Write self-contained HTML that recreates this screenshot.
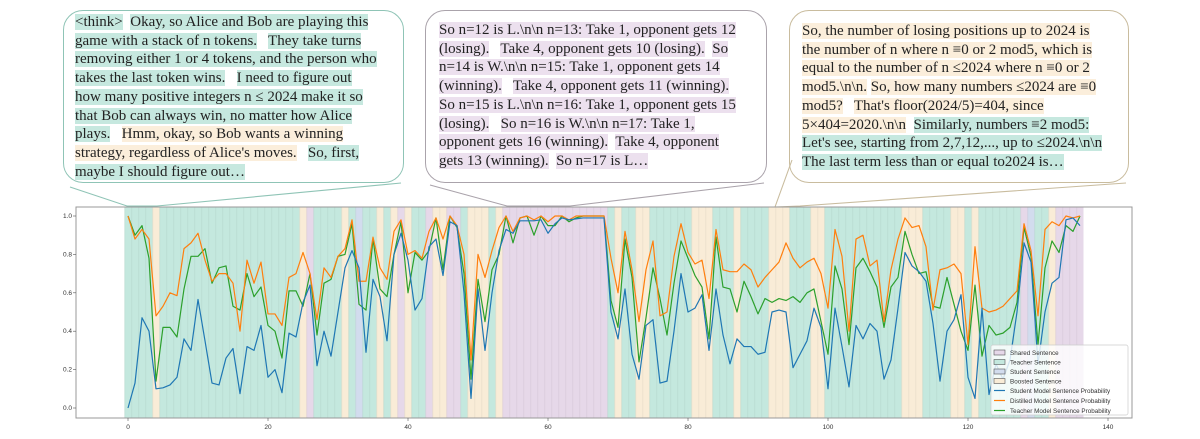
<!DOCTYPE html>
<html><head><meta charset="utf-8"><style>
body{margin:0;width:1200px;height:439px;background:#fff;position:relative;overflow:hidden;font-family:"Liberation Serif",serif}
.b{position:absolute;top:10px;height:173px;border-radius:20px;border:1.6px solid;box-sizing:border-box;background:#fff}
.t{position:absolute;font-size:15px;line-height:18.7px;white-space:nowrap;color:#222}
.g{background:#c6e8df}.y{background:#fbeedb}.p{background:#ece0ee}
</style></head><body>
<div class="b" style="left:63px;width:341px;border-color:#8fc4b6"></div>
<div class="b" style="left:425px;width:342px;border-color:#aaa3ab"></div>
<div class="b" style="left:789px;width:340px;border-color:#c9bc9e"></div>
<div class="t" style="left:75px;top:13px"><span class="g">&lt;think&gt;</span>&nbsp; <span class="g">Okay, so Alice and Bob are playing this<br>game with a stack of n tokens.</span>&nbsp;&nbsp; <span class="g">They take turns<br>removing either 1 or 4 tokens, and the person who<br>takes the last token wins.</span>&nbsp;&nbsp; <span class="g">I need to figure out<br>how many positive integers n ≤ 2024 make it so<br>that Bob can always win, no matter how Alice<br>plays.</span>&nbsp;&nbsp; <span class="y">Hmm, okay, so Bob wants a winning<br>strategy, regardless of Alice's moves.</span>&nbsp;&nbsp; <span class="g">So, first,<br>maybe I should figure out…</span></div>
<div class="t" style="left:439px;top:21px"><span class="p">So n=12 is L.\n\n n=13: Take 1, opponent gets 12<br>(losing).</span>&nbsp;&nbsp; <span class="p">Take 4, opponent gets 10 (losing).</span>&nbsp; <span class="p">So<br>n=14 is W.\n\n n=15: Take 1, opponent gets 14<br>(winning).</span>&nbsp;&nbsp; <span class="p">Take 4, opponent gets 11 (winning).<br>So n=15 is L.\n\n n=16: Take 1, opponent gets 15<br>(losing).</span>&nbsp;&nbsp; <span class="p">So n=16 is W.\n\n n=17: Take 1,<br>opponent gets 16 (winning).</span>&nbsp; <span class="p">Take 4, opponent<br>gets 13 (winning).</span>&nbsp; <span class="p">So n=17 is L…</span></div>
<div class="t" style="left:802px;top:22px"><span class="y">So, the number of losing positions up to 2024 is<br>the number of n where n ≡0 or 2 mod5, which is<br>equal to the number of n ≤2024 where n ≡0 or 2<br>mod5.\n\n.</span> <span class="y">So, how many numbers ≤2024 are ≡0<br>mod5?</span>&nbsp;&nbsp; <span class="y">That's floor(2024/5)=404, since<br>5×404=2020.\n\n</span>&nbsp; <span class="g">Similarly, numbers ≡2 mod5:<br>Let's see, starting from 2,7,12,..., up to ≤2024.\n\n<br>The last term less than or equal to2024 is…</span></div>

<svg width="1200" height="439" style="position:absolute;left:0;top:0" font-family="Liberation Sans, sans-serif">
<defs><pattern id="vl" patternUnits="userSpaceOnUse" x="124.5" y="0" width="7" height="10"><line x1="0.3" y1="0" x2="0.3" y2="10" stroke="rgba(0,0,0,0.07)" stroke-width="0.7"/></pattern></defs>
<g stroke-width="1.1" fill="none">
<polyline points="70,187 127,206 157,206 401,183" stroke="#8fc4b6"/>
<polyline points="430,185 507,206 570,206 764,183" stroke="#aaa3ab"/>
<polyline points="792,160 775,207 800,206 1126,183" stroke="#c9bc9e"/>
</g>
<rect x="76" y="207" width="1056" height="211" fill="#fff" stroke="#999" stroke-width="1"/>
<g transform="translate(124.5,207.5) scale(7,1)">
<rect x="0" y="0" width="137" height="210" fill="#c4e8de"/>
<g fill="#f9ecd7">
<rect x="4" width="1" height="210"/><rect x="25" width="1" height="210"/><rect x="31" width="1" height="210"/><rect x="36" width="1" height="210"/><rect x="38" width="1" height="210"/><rect x="40" width="1" height="210"/><rect x="44" width="2" height="210"/><rect x="49" width="3" height="210"/><rect x="53" width="1" height="210"/><rect x="70" width="1" height="210"/><rect x="73" width="2" height="210"/><rect x="81" width="3" height="210"/><rect x="87" width="1" height="210"/><rect x="92" width="3" height="210"/><rect x="98" width="2" height="210"/><rect x="111" width="3" height="210"/><rect x="118" width="2" height="210"/><rect x="121" width="1" height="210"/><rect x="132" width="1" height="210"/>
</g>
<g fill="#e6d8e9">
<rect x="26" width="1" height="210"/><rect x="39" width="1" height="210"/><rect x="43" width="1" height="210"/><rect x="46" width="2" height="210"/><rect x="54" width="15" height="210"/><rect x="128" width="1" height="210"/><rect x="133" width="4" height="210"/>
</g>
<g fill="#d2dcee"><rect x="33" width="1" height="210"/><rect x="129" width="1" height="210"/></g>
</g>
<rect x="124.5" y="207.5" width="959" height="210" fill="url(#vl)"/>
<g transform="translate(128,408) scale(7,-192)" fill="none" stroke-width="1.2" stroke-linejoin="round">
<polyline vector-effect="non-scaling-stroke" stroke="#2ca02c" points="0,1 1,0.9 2,0.95 3,0.78 4,0.14 5,0.42 6,0.42 7,0.37 8,0.62 9,0.79 10,0.79 11,0.83 12,0.65 13,0.73 14,0.74 15,0.53 16,0.51 17,0.7 18,0.58 19,0.63 20,0.43 21,0.4 22,0.26 23,0.61 24,0.61 25,0.53 26,0.7 27,0.38 28,0.65 29,0.67 30,0.79 31,0.8 32,0.96 33,0.54 34,0.51 35,0.88 36,0.62 37,0.58 38,0.8 39,0.97 40,0.6 41,0.81 42,0.77 43,0.82 44,0.99 45,0.72 46,1 47,0.94 48,0.7 49,0.15 50,0.67 51,0.45 52,0.72 53,0.8 54,1 55,0.86 56,0.99 57,1 58,0.9 59,1 60,0.95 61,0.95 62,1 63,0.97 64,0.99 65,1 66,1 67,1 68,1 69,0.56 70,0.42 71,0.88 72,0.68 73,0.24 74,0.47 75,0.73 76,0.57 77,0.38 78,0.65 79,0.87 80,0.78 81,0.69 82,0.63 83,0.36 84,0.89 85,0.63 86,0.62 87,0.5 88,0.66 89,0.58 90,0.49 91,0.57 92,0.55 93,0.57 94,0.56 95,0.58 96,0.55 97,0.6 98,0.62 99,0.45 100,0.28 101,0.74 102,0.62 103,0.33 104,0.73 105,0.78 106,0.71 107,0.63 108,0.42 109,0.63 110,0.68 111,0.92 112,0.8 113,0.7 114,0.71 115,0.53 116,0.52 117,0.68 118,0.54 119,0.4 120,0.3 121,0.64 122,0.27 123,0.43 124,0.38 125,0.39 126,0.42 127,0.55 128,0.94 129,0.79 130,0.33 131,0.73 132,0.87 133,0.81 134,0.95 135,0.92 136,1"/>
<polyline vector-effect="non-scaling-stroke" stroke="#ff7f0e" points="0,1 1,0.88 2,0.93 3,0.88 4,0.48 5,0.53 6,0.6 7,0.585 8,0.83 9,0.86 10,0.91 11,0.77 12,0.66 13,0.7 14,0.7 15,0.65 16,0.4 17,0.77 18,0.65 19,0.76 20,0.49 21,0.49 22,0.43 23,0.68 24,0.7 25,0.81 26,0.7 27,0.46 28,0.73 29,0.68 30,0.79 31,0.83 32,0.98 33,0.66 34,0.66 35,0.89 36,0.73 37,0.67 38,0.92 39,0.98 40,0.8 41,0.82 42,0.78 43,0.92 44,0.99 45,0.88 46,1 47,0.95 48,0.8 49,0.25 50,0.8 51,0.68 52,0.82 53,0.94 54,1 55,0.92 56,0.99 57,1 58,0.98 59,1 60,0.97 61,1 62,1 63,0.98 64,1 65,1 66,1 67,1 68,1 69,0.78 70,0.6 71,0.92 72,0.72 73,0.45 74,0.72 75,0.87 76,0.48 77,0.5 78,0.79 79,0.96 80,0.81 81,0.75 82,0.77 83,0.57 84,0.93 85,0.72 86,0.71 87,0.71 88,0.75 89,0.72 90,0.63 91,0.68 92,0.72 93,0.76 94,0.86 95,0.78 96,0.73 97,0.76 98,0.78 99,0.7 100,0.52 101,0.93 102,0.79 103,0.4 104,0.88 105,0.9 106,0.74 107,0.77 108,0.45 109,0.72 110,0.88 111,0.99 112,0.94 113,0.95 114,0.84 115,0.51 116,0.72 117,0.73 118,0.75 119,0.7 120,0.33 121,0.84 122,0.52 123,0.5 124,0.51 125,0.53 126,0.57 127,0.61 128,0.96 129,0.82 130,0.48 131,0.93 132,0.97 133,0.95 134,1 135,0.99 136,1"/>
<polyline vector-effect="non-scaling-stroke" stroke="#1f77b4" points="0,0 1,0.13 2,0.47 3,0.4 4,0.1 5,0.105 6,0.12 7,0.16 8,0.36 9,0.3 10,0.565 11,0.35 12,0.13 13,0.12 14,0.26 15,0.31 16,0.075 17,0.32 18,0.3 19,0.43 20,0.16 21,0.2 22,0.08 23,0.39 24,0.37 25,0.55 26,0.64 27,0.22 28,0.4 29,0.27 30,0.5 31,0.73 32,0.82 33,0.73 34,0.29 35,0.67 36,0.58 37,0.35 38,0.8 39,0.91 40,0.77 41,0.51 42,0.57 43,0.84 44,0.88 45,0.69 46,0.97 47,0.95 48,0.6 49,0.05 50,0.62 51,0.3 52,0.6 53,0.82 54,0.93 55,0.91 56,0.975 57,0.975 58,0.975 59,0.98 60,0.91 61,0.96 62,0.99 63,0.98 64,0.985 65,0.99 66,0.99 67,0.99 68,0.99 69,0.5 70,0.36 71,0.62 72,0.28 73,0.15 74,0.43 75,0.46 76,0.13 77,0.14 78,0.4 79,0.7 80,0.5 81,0.52 82,0.59 83,0.3 84,0.62 85,0.38 86,0.23 87,0.36 88,0.32 89,0.32 90,0.28 91,0.29 92,0.5 93,0.51 94,0.5 95,0.21 96,0.28 97,0.35 98,0.52 99,0.42 100,0.1 101,0.52 102,0.32 103,0.11 104,0.43 105,0.36 106,0.44 107,0.4 108,0.15 109,0.25 110,0.52 111,0.81 112,0.74 113,0.71 114,0.66 115,0.44 116,0.14 117,0.4 118,0.46 119,0.59 120,0.16 121,0.05 122,0.52 123,0.07 124,0.23 125,0.15 126,0.25 127,0.5 128,0.86 129,0.76 130,0.23 131,0.5 132,0.65 133,0.68 134,0.98 135,0.99 136,0.95"/>
</g>
<g font-size="6.5" fill="#333" text-anchor="end">
<text x="72" y="410">0.0</text><text x="72" y="371.6">0.2</text><text x="72" y="333.2">0.4</text><text x="72" y="294.8">0.6</text><text x="72" y="256.4">0.8</text><text x="72" y="218">1.0</text>
</g>
<g stroke="#555" stroke-width="0.6">
<line x1="73" x2="76" y1="408" y2="408"/><line x1="73" x2="76" y1="369.6" y2="369.6"/><line x1="73" x2="76" y1="331.2" y2="331.2"/><line x1="73" x2="76" y1="292.8" y2="292.8"/><line x1="73" x2="76" y1="254.4" y2="254.4"/><line x1="73" x2="76" y1="216" y2="216"/>
<line x1="128" x2="128" y1="418" y2="421"/><line x1="268" x2="268" y1="418" y2="421"/><line x1="408" x2="408" y1="418" y2="421"/><line x1="548" x2="548" y1="418" y2="421"/><line x1="688" x2="688" y1="418" y2="421"/><line x1="828" x2="828" y1="418" y2="421"/><line x1="968" x2="968" y1="418" y2="421"/><line x1="1108" x2="1108" y1="418" y2="421"/>
</g>
<g font-size="6.5" fill="#333" text-anchor="middle">
<text x="128" y="429">0</text><text x="268" y="429">20</text><text x="408" y="429">40</text><text x="548" y="429">60</text><text x="688" y="429">80</text><text x="828" y="429">100</text><text x="968" y="429">120</text><text x="1108" y="429">140</text>
</g>
<rect x="991" y="345" width="137" height="70" rx="2" fill="#fff" fill-opacity="0.8" stroke="#ccc" stroke-width="0.7"/>
<g stroke-width="0.6" stroke="#555">
<rect x="994" y="350" width="11" height="5" fill="#e6d8e9"/>
<rect x="994" y="359.5" width="11" height="5" fill="#c4e8de"/>
<rect x="994" y="369" width="11" height="5" fill="#d2dcee"/>
<rect x="994" y="378.5" width="11" height="5" fill="#f9ecd7"/>
</g>
<g stroke-width="1.2">
<line x1="994" x2="1005" y1="390.5" y2="390.5" stroke="#1f77b4"/>
<line x1="994" x2="1005" y1="400.5" y2="400.5" stroke="#ff7f0e"/>
<line x1="994" x2="1005" y1="410.5" y2="410.5" stroke="#2ca02c"/>
</g>
<g font-size="6.3" fill="#333">
<text x="1010" y="355">Shared Sentence</text>
<text x="1010" y="364.5">Teacher Sentence</text>
<text x="1010" y="374">Student Sentence</text>
<text x="1010" y="383.5">Boosted Sentence</text>
<text x="1010" y="393">Student Model Sentence Probability</text>
<text x="1010" y="403">Distilled Model Sentence Probability</text>
<text x="1010" y="413">Teacher Model Sentence Probability</text>
</g>
</svg>
</body></html>
